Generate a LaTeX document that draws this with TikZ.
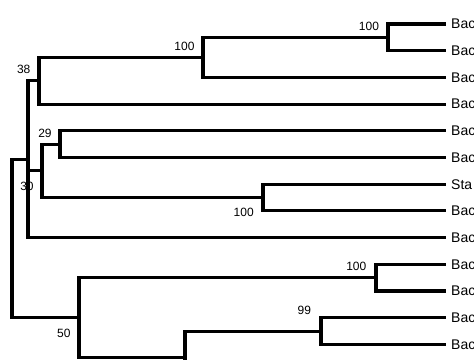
\documentclass[tikz,border=0pt]{standalone}
\usepackage{fontspec}
\setmainfont{Liberation Sans}
\begin{document}
\begin{tikzpicture}[x=1pt,y=-1pt,
  br/.style={line width=3.1pt,line join=miter,black},
  bs/.style={inner sep=0pt,font=\fontsize{12}{12}\selectfont},
  leaflab/.style={inner sep=0pt,anchor=west,font=\fontsize{14}{14}\selectfont}]
\useasboundingbox (0,0) rectangle (474,359);
\clip (0,0) rectangle (474,359);
% bootstrap values (drawn first, branches lie over them)
\node[bs] (bA) at (369,26) {100};
\node[bs] (bB) at (184.5,46) {100};
\node[bs] (bC) at (23.7,69.5) {38};
\node[bs] (bD) at (45,133.3) {29};
\node[bs] (bF) at (27,186) {30};
\node[bs] (bE) at (243.7,212.3) {100};
\node[bs] (bJ) at (356.3,266.5) {100};
\node[bs] (bL) at (304.3,310.5) {99};
\node[bs] (bI) at (63.8,333) {50};
% leaves
\foreach \i/\yy in {1/24,2/50.7,3/77.4,4/104.1,5/130.8,6/157.5,7/184.2,8/210.9,9/237.6,10/264.3,11/291,12/317.7,13/344.4}
  \coordinate (l\i) at (446,\yy);
% internal nodes
\coordinate (A) at (388,37.35);
\coordinate (B) at (203,57.4);
\coordinate (C) at (39,80.75);
\coordinate (D) at (60,144.15);
\coordinate (E) at (263,197.55);
\coordinate (F) at (42,170.85);
\coordinate (G) at (28,159.2);
\coordinate (J) at (376,277.65);
\coordinate (L) at (321,331.05);
\coordinate (K) at (185,357.5);
\coordinate (kx) at (300,384);
\coordinate (I) at (79,317.6);
\coordinate (H) at (12,238.4);
% branches
\draw[br] (A) |- (l1); \draw[br] (A) |- (l2);
\draw[br] (B) |- (A);  \draw[br] (B) |- (l3);
\draw[br] (C) |- (B);  \draw[br] (C) |- (l4);
\draw[br] (D) |- (l5); \draw[br] (D) |- (l6);
\draw[br] (E) |- (l7); \draw[br] (E) |- (l8);
\draw[br] (F) |- (D);  \draw[br] (F) |- (E);
\draw[br] (G) |- (C);  \draw[br] (G) |- (F); \draw[br] (G) |- (l9);
\draw[br] (J) |- (l10); \draw[br] (J) |- (l11);
\draw[br] (L) |- (l12); \draw[br] (L) |- (l13);
\draw[br] (K) |- (L);  \draw[br] (K) |- (kx);
\draw[br] (I) |- (J);  \draw[br] (I) |- (K);
\draw[br] (H) |- (G);  \draw[br] (H) |- (I);
% leaf labels
\foreach \i in {1,2,3,4,5,6,8,9,10,11,12,13}
  \node[leaflab] (t\i) at ([xshift=5pt]l\i) {Bac};
\node[leaflab] (t7) at ([xshift=5pt]l7) {Sta};
\end{tikzpicture}
\end{document}
